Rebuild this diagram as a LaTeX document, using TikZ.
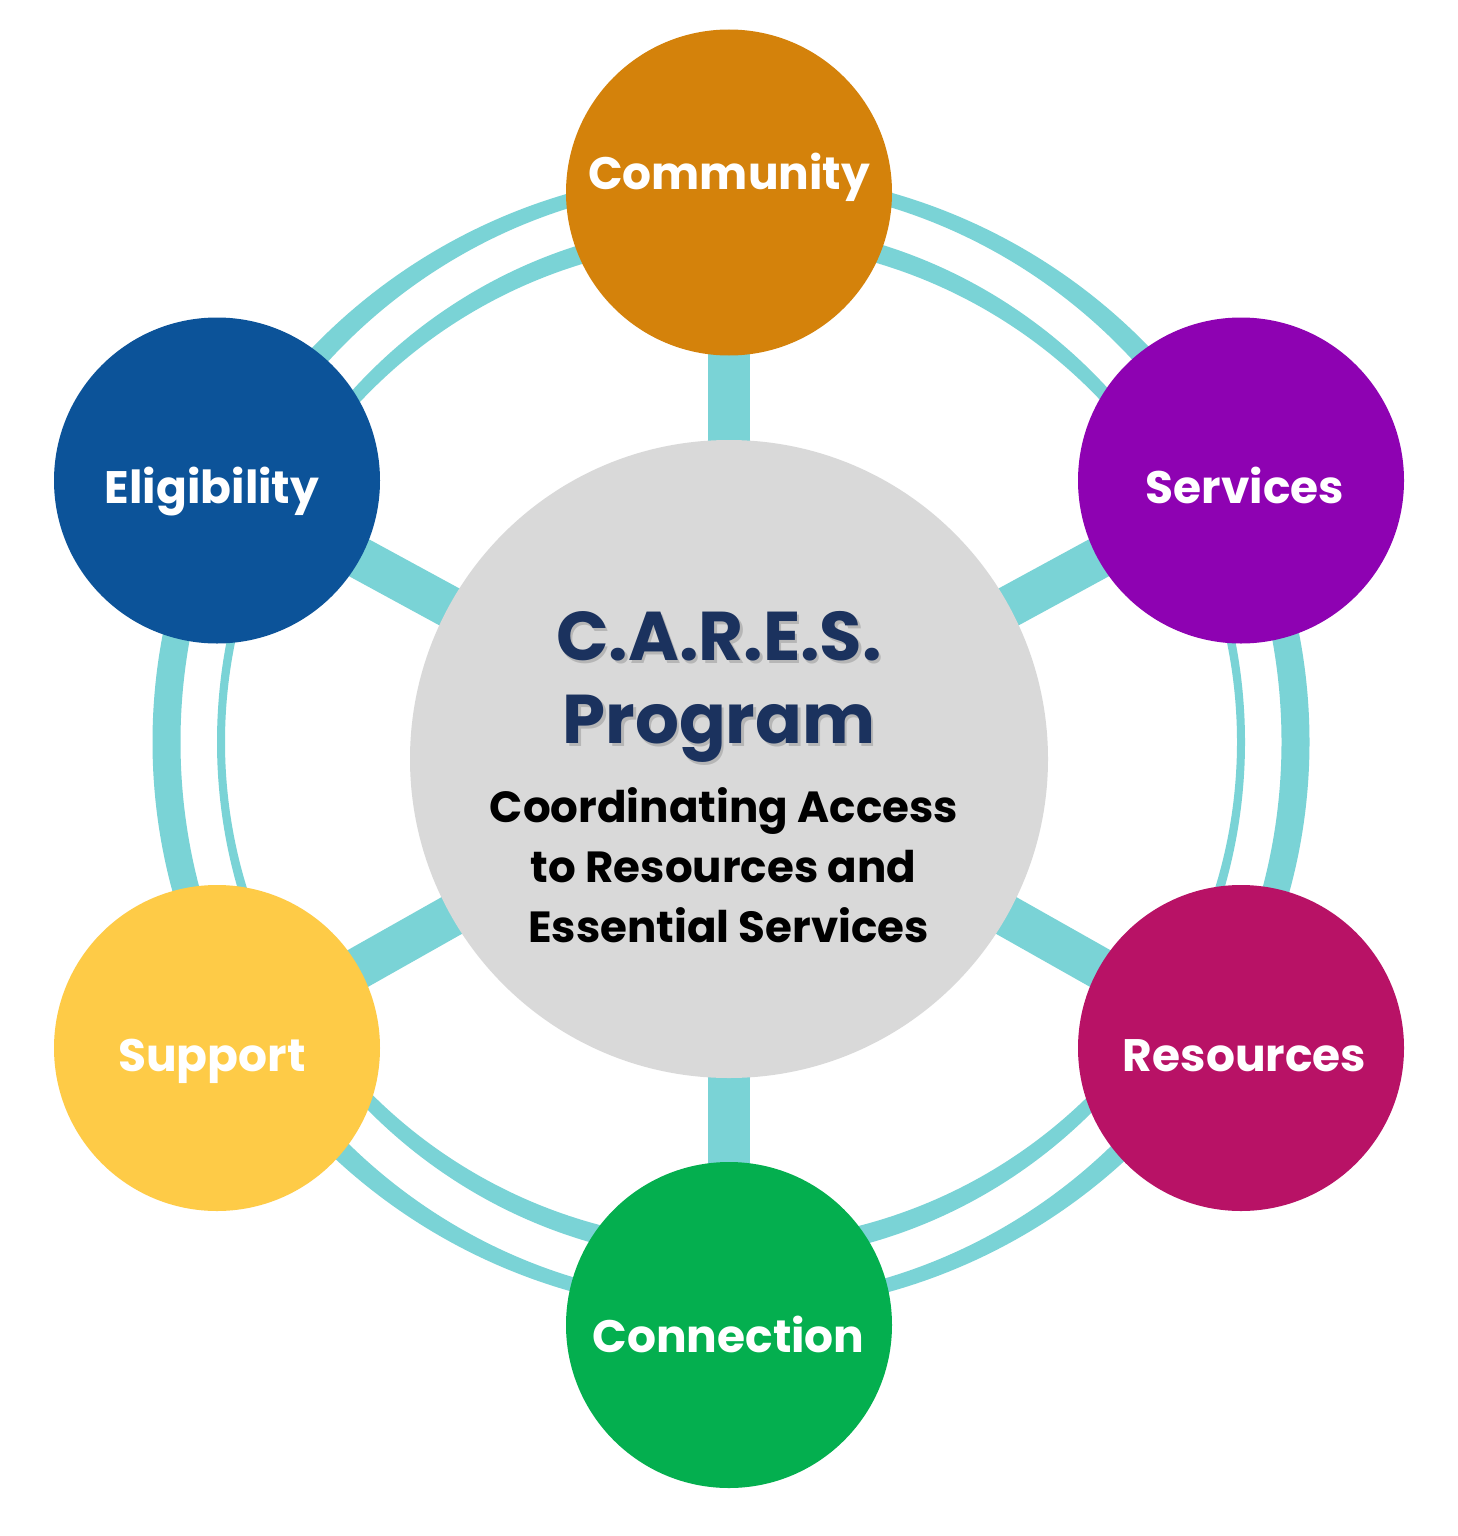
\documentclass[tikz,border=0pt]{standalone}
\usepackage{fontspec}
\setmainfont{Poppins}
\usetikzlibrary{backgrounds}
\definecolor{teal1}{HTML}{7AD3D6}
\definecolor{ccom}{HTML}{D4820B}
\definecolor{cser}{HTML}{8E02B2}
\definecolor{celi}{HTML}{0C5399}
\definecolor{csup}{HTML}{FECB47}
\definecolor{cres}{HTML}{B81266}
\definecolor{ccon}{HTML}{04AF4F}
\definecolor{cgray}{HTML}{D9D9D9}
\definecolor{navy}{HTML}{1B325E}
\begin{document}
\begin{tikzpicture}[x=1pt,y=-1pt,
  ring/.style={fill=teal1, even odd rule},
  spoke/.style={draw=teal1, line width=42pt},
  bubble/.style={circle, minimum size=326pt, inner sep=0pt, fill=#1},
  lab/.style={anchor=base, text=white, inner sep=0pt, font=\fontsize{45.5}{45.5}\selectfont\bfseries},
  ttl/.style={anchor=base, inner sep=0pt, font=\fontsize{69}{69}\selectfont\bfseries},
  sub/.style={anchor=base, inner sep=0pt, text=black, font=\fontsize{43.6}{43.6}\selectfont\bfseries},
]
\useasboundingbox (0,0) rectangle (1458,1536);
% circles
\node[bubble=cgray, minimum size=638pt] (core) at (729,759) {};
\node[bubble=ccom] (com) at (729,192.5) {};
\node[bubble=cser] (ser) at (1241,480.5) {};
\node[bubble=celi] (eli) at (217,480.5) {};
\node[bubble=csup] (sup) at (217,1048) {};
\node[bubble=cres] (res) at (1241,1048) {};
\node[bubble=ccon] (con) at (729,1325) {};
\begin{scope}[on background layer]
  \fill[white] (0,0) rectangle (1458,1536);
  \coordinate (rc) at (731,742);
  \fill[ring] (rc) ellipse [x radius=578.5pt, y radius=571.5pt]
              (rc) ellipse [x radius=550.5pt, y radius=558.5pt];
  \fill[ring] (rc) ellipse [x radius=514pt, y radius=520pt]
              (rc) ellipse [x radius=506pt, y radius=500pt];
  \foreach \n in {com,ser,eli,sup,res,con}
    \draw[spoke] (core.center) -- (\n.center);
\end{scope}
% labels
\node[lab] (comL) at (729,189) {Community};
\node[lab] (eliL) at (212,503) {Eligibility};
\node[lab] (serL) at (1245,503) {Services};
\node[lab] (supL) at (212,1071) {Support};
\node[lab] (resL) at (1244.5,1071) {Resources};
\node[lab] (conL) at (728.5,1352) {Connection};
% title with soft shadow
\node[ttl, text=black, opacity=0.16] (shA) at (721.5,663) {C.A.R.E.S.};
\node[ttl, text=black, opacity=0.16] (shB) at (721.5,746) {Program};
\node[ttl, text=navy] (t1) at (719,660) {C.A.R.E.S.};
\node[ttl, text=navy] (t2) at (719,743) {Program};
\node[sub] (s1) at (724,822) {Coordinating Access};
\node[sub] (s2) at (723.5,882) {to Resources and};
\node[sub] (s3) at (728.5,942) {Essential Services};
\end{tikzpicture}
\end{document}
